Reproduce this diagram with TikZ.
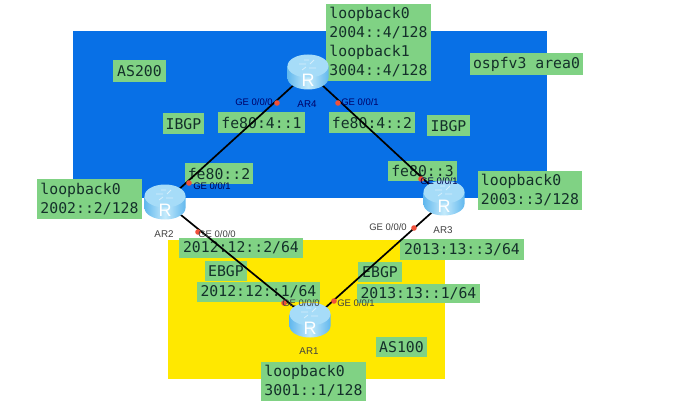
\documentclass[tikz,border=0pt]{standalone}
\usepackage{fontspec}
\setmainfont{Liberation Sans}
\setmonofont{DejaVu Sans Mono}
\usetikzlibrary{calc}
\definecolor{asblue}{HTML}{0870E6}
\definecolor{asyellow}{HTML}{FFE800}
\definecolor{lblgreen}{HTML}{80D284}
\definecolor{lbltext}{HTML}{14302A}
\definecolor{rtop}{HTML}{A6DCF8}
\definecolor{rlow}{HTML}{C4EAFB}
\definecolor{rmid}{HTML}{62B8EE}
\definecolor{dotred}{HTML}{F0503A}
\pgfdeclarelayer{under}
\pgfdeclarelayer{wires}
\pgfsetlayers{under,wires,main}
\tikzset{
  lbl/.style={fill=lblgreen,text=lbltext,inner sep=0pt,align=left,
    font=\ttfamily\fontsize{14.8}{19}\selectfont},
  ge/.style={font=\fontsize{9.5}{10}\selectfont,text=#1,inner sep=0pt},
  ge/.default={black!75},
  arname/.style={font=\fontsize{9.8}{10}\selectfont,text=black!75,inner sep=0pt},
  link/.style={draw=black,line width=1.7pt},
  portdot/.style={fill=dotred},
  routerlabel/.style={text=white,inner sep=0pt,font=\fontsize{18}{18}\selectfont},
  routerhit/.style={inner sep=0pt,minimum width=41pt,minimum height=35pt}
}
\newcommand{\routerbody}[3]{%
  \begin{scope}[shift={(#2,#3)}]
    \shade[left color=rmid,right color=rmid,middle color=rlow]
      (-20.5,-6) -- (-20.5,6) arc[start angle=180,end angle=0,x radius=20.5,y radius=11.5] -- (20.5,-6) -- cycle;
    \fill[rtop] (0,-6) ellipse[x radius=20.5,y radius=11.5];
    \draw[white,opacity=.55,line width=.8pt] (-9,-8) -- (-2,-8) (1,-4) -- (8,-4) (-6,-2) -- (-2,-5) (2,-8) -- (6,-12) (-4,-12) -- (1,-12);
    \node[routerhit] (#1) at (0,0) {};
    \node[routerlabel] (#1r) at (0,8) {R};
  \end{scope}}
\begin{document}
\begin{tikzpicture}[x=1pt,y=-1pt]
\useasboundingbox (0,0) rectangle (689,412);
\begin{pgfonlayer}{under}
  \fill[white] (0,0) rectangle (689,412);
  \fill[asblue] (73,31) rectangle (547,198);
  \fill[asyellow] (168,240) rectangle (445,379);
  \node[lbl,minimum width=105pt,minimum height=77pt] (top) at (378.5,42.5) {loopback0\\2004::4/128\\loopback1\\3004::4/128};
  \node[lbl,minimum width=53pt,minimum height=22pt] (as200) at (139.5,71) {AS200};
  \node[lbl,minimum width=113pt,minimum height=22pt] (ospf) at (526.5,64) {ospfv3 area0};
  \node[lbl,minimum width=41pt,minimum height=21pt] (ibgpl) at (183.5,124) {IBGP};
  \node[lbl,minimum width=43pt,minimum height=21pt] (ibgpr) at (448.5,126) {IBGP};
  \node[lbl,minimum width=87pt,minimum height=21pt] (fe41) at (261.5,122.5) {fe80:4::1};
  \node[lbl,minimum width=86pt,minimum height=21pt] (fe42) at (372,122.5) {fe80:4::2};
  \node[lbl,minimum width=68pt,minimum height=21pt] (fe2) at (219,173.5) {fe80::2};
  \node[lbl,minimum width=69pt,minimum height=20pt] (fe3) at (422.5,171) {fe80::3};
  \node[lbl,minimum width=105pt,minimum height=40pt] (lo2) at (89.5,199) {loopback0\\2002::2/128};
  \node[lbl,minimum width=104pt,minimum height=39pt] (lo3) at (530,190.5) {loopback0\\2003::3/128};
  \node[lbl,minimum width=124pt,minimum height=20pt] (a122) at (241,248) {2012:12::2/64};
  \node[lbl,minimum width=42pt,minimum height=20pt] (ebgpl) at (226,271) {EBGP};
  \node[lbl,minimum width=123pt,minimum height=20pt] (a121) at (258.5,292) {2012:12::1/64};
  \node[lbl,minimum width=124pt,minimum height=21pt] (a133) at (462,249.5) {2013:13::3/64};
  \node[lbl,minimum width=44pt,minimum height=20pt] (ebgpr) at (380,272) {EBGP};
  \node[lbl,minimum width=123pt,minimum height=19pt] (a131) at (418.5,293.5) {2013:13::1/64};
  \node[lbl,minimum width=51pt,minimum height=20pt] (as100) at (401.5,347) {AS100};
  \node[lbl,minimum width=105pt,minimum height=39pt] (lo1) at (313.5,381.5) {loopback0\\3001::1/128};
\end{pgfonlayer}
\routerbody{ar4}{308}{72}
\routerbody{ar2}{165}{202}
\routerbody{ar3}{444}{198}
\routerbody{ar1}{310}{320}
\begin{pgfonlayer}{wires}
  \draw[link] (ar4.center) -- (ar2.center);
  \draw[link] (ar4.center) -- (ar3.center);
  \draw[link] (ar2.center) -- (ar1.center);
  \draw[link] ($(ar3.center)+(0,3.5)$) -- ($(ar1.center)+(0,1.5)$);
\end{pgfonlayer}
\foreach \px/\py in {277/103,338/103,189/183,198/232,421/179,414/228,284/303,334/301}
  \fill[portdot] (\px,\py) circle[radius=2.8];
\node[ge={black!60!blue}] (g41) at (254,102) {GE 0/0/0};
\node[ge={black!60!blue}] (g42) at (360,102) {GE 0/0/1};
\node[ge={black!70!blue}] (g21) at (212,186) {GE 0/0/1};
\node[ge] (g20) at (217,234) {GE 0/0/0};
\node[ge={black!70!blue}] (g31) at (439,181) {GE 0/0/1};
\node[ge] (g30) at (388,227) {GE 0/0/0};
\node[ge] (g10) at (301,303) {GE 0/0/0};
\node[ge] (g11) at (356,303) {GE 0/0/1};
\node[arname,text=black!60!blue] (n4) at (307,104) {AR4};
\node[arname] (n2) at (164,234) {AR2};
\node[arname] (n3) at (443,230) {AR3};
\node[arname] (n1) at (309,351) {AR1};
\end{tikzpicture}
\end{document}
